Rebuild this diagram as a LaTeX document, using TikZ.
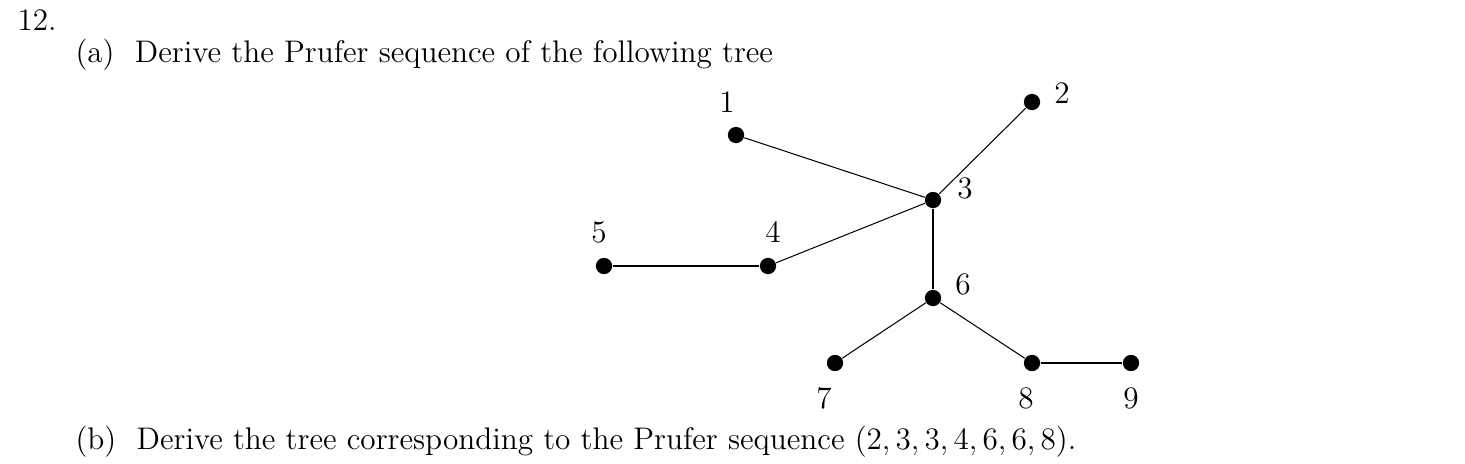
\documentclass[tikz,border=0pt]{standalone}
\usepackage{amsmath}
\begin{document}
\begin{tikzpicture}[x=0.0135cm, y=-0.0135cm, font=\large,
    vertex/.style={circle, fill, inner sep=0pt, minimum size=2.2mm},
    lbl/.style={inner sep=0pt},
    txt/.style={anchor=west, inner sep=0pt}]

    \useasboundingbox (0,0) rectangle (1465,463);

    \node[txt] (num) at (17,20) {12.};
    \node[txt] (parta) at (75,55) {(a)\ \ Derive the Prufer sequence of the following tree};
    \node[txt] (partb) at (75,442) {(b)\ \ Derive the tree corresponding to the Prufer sequence $(2,3,3,4,6,6,8)$.};

    % vertices
    \node[vertex] (v1) at (736,135) {};
    \node[vertex] (v2) at (1032,102) {};
    \node[vertex] (v3) at (933,200) {};
    \node[vertex] (v4) at (768,266) {};
    \node[vertex] (v5) at (604,266) {};
    \node[vertex] (v6) at (933,298) {};
    \node[vertex] (v7) at (835,363) {};
    \node[vertex] (v8) at (1032,363) {};
    \node[vertex] (v9) at (1131,363) {};

    % labels
    \node[lbl] (l1) at (727,102) {1};
    \node[lbl] (l2) at (1062,93) {2};
    \node[lbl] (l3) at (965,188) {3};
    \node[lbl] (l4) at (773,232) {4};
    \node[lbl] (l5) at (599,232) {5};
    \node[lbl] (l6) at (963,284) {6};
    \node[lbl] (l7) at (824,398) {7};
    \node[lbl] (l8) at (1026,398) {8};
    \node[lbl] (l9) at (1131,398) {9};

    \draw (v1) -- (v3);
    \draw (v2) -- (v3);
    \draw (v4) -- (v3);
    \draw (v5) -- (v4);
    \draw (v3) -- (v6);
    \draw (v6) -- (v7);
    \draw (v6) -- (v8);
    \draw (v8) -- (v9);

\end{tikzpicture}
\end{document}
